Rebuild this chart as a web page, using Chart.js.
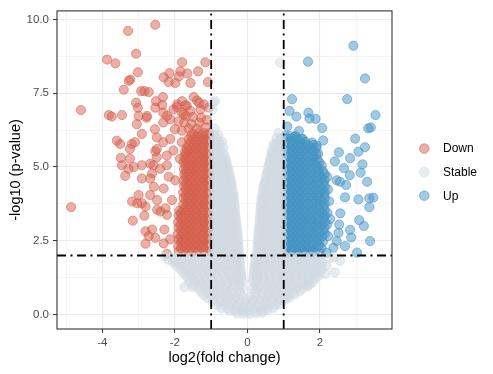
<!DOCTYPE html>
<html>
<head>
<meta charset="utf-8">
<script src="https://cdn.jsdelivr.net/npm/chart.js@4.4.1/dist/chart.umd.min.js"></script>
<style>
  html, body { margin: 0; padding: 0; background: #fff; }
</style>
</head>
<body>
<canvas id="volcanoChart" width="493" height="374"></canvas>
<script>
// cut-offs used in the plot
const fcCut = 1;
const pCut = 2;

const legendLabels = ["Down", "Stable", "Up"];

// Down: scattered points
const downSparse = [
  [-2.54, 9.82], [-3.29, 9.61], [-3.87, 8.64], [-3.64, 8.51], [-3.07, 8.84], [-1.80, 8.55],
  [-1.16, 8.55], [-3.02, 8.21], [-1.36, 8.24], [-2.15, 8.18], [-1.85, 8.24], [-1.66, 8.17],
  [-2.31, 8.04], [-1.99, 7.85], [-2.17, 7.88], [-1.89, 8.07], [-1.57, 7.85], [-1.09, 7.88],
  [-3.27, 7.92], [-3.23, 7.96], [-3.41, 7.62], [-2.93, 7.57], [-2.84, 7.57], [-2.72, 7.54],
  [-4.59, 6.93], [-3.07, 7.18], [-3.02, 7.01], [-2.52, 7.23], [-2.33, 7.37], [-2.54, 7.01],
  [-2.35, 7.10], [-1.94, 7.12], [-1.80, 7.23], [-1.71, 7.10], [-1.48, 7.37], [-1.39, 7.25],
  [-1.20, 7.12], [-1.94, 7.03], [-1.57, 6.90], [-1.30, 6.95], [-1.07, 7.01], [-3.82, 6.76],
  [-3.74, 6.71], [-3.46, 6.76], [-3.00, 6.73], [-2.77, 6.73], [-2.22, 6.73], [-1.76, 6.78],
  [-3.05, 6.45], [-2.78, 6.67], [-2.91, 6.12], [-3.60, 5.89], [-3.51, 5.78], [-3.24, 5.61],
  [-3.19, 5.78], [-3.10, 5.84], [-3.49, 5.31], [-3.24, 5.28], [-3.46, 5.06], [-3.28, 4.94],
  [-3.37, 4.70], [-2.91, 5.06], [-2.50, 6.00], [-2.50, 5.61], [-2.50, 5.33], [-2.68, 5.11],
  [-2.59, 5.06], [-2.91, 4.61], [-2.68, 4.61], [-2.41, 4.94], [-2.22, 5.06], [-2.55, 6.28],
  [-2.32, 6.51], [-2.13, 6.62], [-2.32, 6.84], [-2.04, 6.95], [-1.81, 6.84], [-2.00, 6.28],
  [-2.13, 5.95], [-1.81, 6.23], [-2.32, 5.84], [-1.81, 5.84], [-2.04, 5.56], [-2.22, 5.39],
  [-1.86, 5.28], [-3.13, 5.00], [-2.63, 4.78], [-2.17, 4.67], [-1.99, 4.55], [-2.54, 5.53],
  [-2.58, 4.33], [-2.31, 4.27], [-3.00, 4.05], [-3.04, 3.77], [-2.91, 3.77], [-3.18, 3.83],
  [-2.68, 4.05], [-2.81, 3.66], [-2.49, 3.88], [-2.49, 3.55], [-2.26, 3.60], [-2.22, 3.38],
  [-2.40, 3.49], [-2.08, 3.88], [-4.86, 3.64], [-3.16, 3.18], [-2.84, 3.35], [-2.81, 2.82],
  [-2.63, 2.88], [-2.72, 2.66], [-2.54, 2.60], [-2.29, 2.88], [-2.81, 2.40], [-2.31, 2.41],
  [-2.22, 2.06], [-2.13, 2.55], [-1.67, 7.07], [-1.33, 7.17], [-1.69, 6.73], [-1.50, 6.70],
  [-1.28, 6.67], [-1.55, 6.45], [-1.33, 6.50], [-1.74, 6.51], [-1.15, 6.35], [-1.40, 6.30],
  [-1.12, 6.60], [-1.90, 6.55], [-1.62, 6.30]
];

// Down: the packed block between log2FC -2 and -1
const downCore = [
  [-1.05, 6.15], [-1.20, 6.15], [-1.35, 6.15], [-1.52, 6.13],
  [-1.04, 5.95], [-1.18, 5.95], [-1.33, 5.96], [-1.48, 5.94], [-1.62, 5.95],
  [-1.05, 5.75], [-1.19, 5.75], [-1.34, 5.74], [-1.49, 5.76], [-1.63, 5.75],
  [-1.04, 5.55], [-1.19, 5.55], [-1.33, 5.56], [-1.48, 5.54], [-1.63, 5.55], [-1.72, 5.52],
  [-1.05, 5.35], [-1.19, 5.35], [-1.34, 5.34], [-1.49, 5.36], [-1.64, 5.35], [-1.74, 5.33],
  [-1.04, 5.15], [-1.18, 5.15], [-1.33, 5.16], [-1.48, 5.14], [-1.62, 5.15], [-1.76, 5.15],
  [-1.05, 4.95], [-1.19, 4.95], [-1.34, 4.94], [-1.49, 4.96], [-1.63, 4.95], [-1.75, 4.93],
  [-1.04, 4.75], [-1.19, 4.75], [-1.33, 4.76], [-1.48, 4.74], [-1.62, 4.75], [-1.74, 4.75],
  [-1.05, 4.55], [-1.19, 4.55], [-1.34, 4.54], [-1.48, 4.56], [-1.63, 4.55], [-1.76, 4.53],
  [-1.04, 4.35], [-1.18, 4.35], [-1.33, 4.36], [-1.48, 4.34], [-1.62, 4.35], [-1.75, 4.35],
  [-1.05, 4.15], [-1.19, 4.15], [-1.34, 4.14], [-1.49, 4.16], [-1.63, 4.15], [-1.77, 4.13],
  [-1.04, 3.95], [-1.19, 3.95], [-1.33, 3.96], [-1.48, 3.94], [-1.62, 3.95], [-1.76, 3.95],
  [-1.05, 3.75], [-1.19, 3.75], [-1.34, 3.74], [-1.49, 3.76], [-1.63, 3.75], [-1.77, 3.73],
  [-1.04, 3.55], [-1.18, 3.55], [-1.33, 3.56], [-1.48, 3.54], [-1.62, 3.55], [-1.77, 3.55], [-1.88, 3.52],
  [-1.05, 3.35], [-1.19, 3.35], [-1.34, 3.34], [-1.49, 3.36], [-1.63, 3.35], [-1.78, 3.33], [-1.90, 3.35],
  [-1.04, 3.15], [-1.19, 3.15], [-1.33, 3.16], [-1.48, 3.14], [-1.62, 3.15], [-1.77, 3.15], [-1.91, 3.13],
  [-1.05, 2.95], [-1.19, 2.95], [-1.34, 2.94], [-1.49, 2.96], [-1.63, 2.95], [-1.78, 2.93], [-1.90, 2.95],
  [-1.04, 2.75], [-1.18, 2.75], [-1.33, 2.76], [-1.48, 2.74], [-1.62, 2.75], [-1.77, 2.75], [-1.92, 2.73],
  [-1.05, 2.55], [-1.19, 2.55], [-1.34, 2.54], [-1.49, 2.56], [-1.63, 2.55], [-1.78, 2.53], [-1.90, 2.55],
  [-1.04, 2.35], [-1.19, 2.35], [-1.33, 2.36], [-1.48, 2.34], [-1.62, 2.35], [-1.77, 2.35], [-1.91, 2.33],
  [-1.05, 2.15], [-1.19, 2.15], [-1.34, 2.14], [-1.49, 2.16], [-1.63, 2.15], [-1.78, 2.13], [-1.89, 2.15]
];

// Down: more points packed in between the ones above
const downCoreFill = [
  [-1.11, 6.05], [-1.26, 6.06], [-1.41, 6.04], [-1.56, 6.05],
  [-1.11, 5.85], [-1.26, 5.86], [-1.41, 5.84], [-1.56, 5.85],
  [-1.11, 5.65], [-1.26, 5.66], [-1.41, 5.64], [-1.56, 5.65], [-1.68, 5.64],
  [-1.11, 5.45], [-1.26, 5.46], [-1.41, 5.44], [-1.56, 5.45], [-1.70, 5.44],
  [-1.11, 5.25], [-1.26, 5.26], [-1.41, 5.24], [-1.56, 5.25], [-1.70, 5.24],
  [-1.11, 5.05], [-1.26, 5.06], [-1.41, 5.04], [-1.56, 5.05], [-1.70, 5.05],
  [-1.11, 4.85], [-1.26, 4.86], [-1.41, 4.84], [-1.56, 4.85], [-1.70, 4.84],
  [-1.11, 4.65], [-1.26, 4.66], [-1.41, 4.64], [-1.56, 4.65], [-1.70, 4.65],
  [-1.11, 4.45], [-1.26, 4.46], [-1.41, 4.44], [-1.56, 4.45], [-1.70, 4.44],
  [-1.11, 4.25], [-1.26, 4.26], [-1.41, 4.24], [-1.56, 4.25], [-1.70, 4.25],
  [-1.11, 4.05], [-1.26, 4.06], [-1.41, 4.04], [-1.56, 4.05], [-1.70, 4.04],
  [-1.11, 3.85], [-1.26, 3.86], [-1.41, 3.84], [-1.56, 3.85], [-1.70, 3.85],
  [-1.11, 3.65], [-1.26, 3.66], [-1.41, 3.64], [-1.56, 3.65], [-1.70, 3.64],
  [-1.11, 3.45], [-1.26, 3.46], [-1.41, 3.44], [-1.56, 3.45], [-1.70, 3.45], [-1.84, 3.44],
  [-1.11, 3.25], [-1.26, 3.26], [-1.41, 3.24], [-1.56, 3.25], [-1.70, 3.24], [-1.84, 3.25],
  [-1.11, 3.05], [-1.26, 3.06], [-1.41, 3.04], [-1.56, 3.05], [-1.70, 3.05], [-1.84, 3.04],
  [-1.11, 2.85], [-1.26, 2.86], [-1.41, 2.84], [-1.56, 2.85], [-1.70, 2.84], [-1.84, 2.85],
  [-1.11, 2.65], [-1.26, 2.66], [-1.41, 2.64], [-1.56, 2.65], [-1.70, 2.65], [-1.84, 2.64],
  [-1.11, 2.45], [-1.26, 2.46], [-1.41, 2.44], [-1.56, 2.45], [-1.70, 2.44], [-1.84, 2.45],
  [-1.11, 2.25], [-1.26, 2.26], [-1.41, 2.24], [-1.56, 2.25], [-1.70, 2.25], [-1.84, 2.24]
];

// Up: scattered points
const upSparse = [
  [2.92, 9.11], [1.67, 8.57], [3.24, 8.00], [1.23, 7.30], [2.75, 7.30], [1.16, 6.90],
  [1.35, 6.71], [1.68, 6.84], [1.71, 6.64], [1.88, 6.63], [3.53, 6.76], [1.10, 6.37],
  [1.42, 6.22], [2.06, 6.32], [3.33, 6.31], [3.40, 6.34], [2.97, 5.96], [2.09, 5.90],
  [3.24, 5.67], [3.06, 5.52], [2.52, 5.50], [2.83, 5.30], [2.41, 5.19], [2.66, 4.96],
  [3.17, 5.09], [3.12, 4.81], [2.82, 4.72], [3.30, 4.50], [2.55, 4.50], [2.72, 4.39],
  [2.46, 4.55], [3.06, 3.90], [3.36, 3.94], [3.47, 3.96], [2.69, 3.97], [3.36, 3.64],
  [3.08, 3.20], [3.21, 3.00], [2.83, 2.87], [2.86, 2.61], [3.38, 2.49], [3.02, 2.10],
  [2.56, 3.43], [2.53, 3.05], [2.51, 2.77], [2.46, 2.49], [2.69, 2.32], [2.37, 2.26],
  [2.18, 2.10], [1.50, 5.95], [1.91, 5.72], [1.95, 5.45], [1.32, 6.05]
];

// Up: the packed block right of log2FC 1
const upCore = [
  [1.04, 6.05], [1.17, 6.05], [1.30, 6.03],
  [1.03, 5.85], [1.17, 5.85], [1.31, 5.86], [1.45, 5.84], [1.60, 5.85], [1.78, 5.83],
  [1.04, 5.65], [1.18, 5.65], [1.32, 5.64], [1.46, 5.66], [1.60, 5.65], [1.75, 5.63], [1.90, 5.65],
  [1.03, 5.45], [1.17, 5.45], [1.31, 5.46], [1.45, 5.44], [1.59, 5.45], [1.74, 5.45], [1.90, 5.43],
  [1.04, 5.25], [1.18, 5.25], [1.32, 5.24], [1.46, 5.26], [1.60, 5.25], [1.76, 5.23], [1.93, 5.25],
  [1.03, 5.05], [1.17, 5.05], [1.31, 5.06], [1.45, 5.04], [1.59, 5.05], [1.74, 5.05], [1.90, 5.03], [2.05, 5.05],
  [1.04, 4.85], [1.18, 4.85], [1.32, 4.84], [1.46, 4.86], [1.60, 4.85], [1.75, 4.83], [1.92, 4.85], [2.08, 4.86],
  [1.03, 4.65], [1.17, 4.65], [1.31, 4.66], [1.45, 4.64], [1.59, 4.65], [1.74, 4.65], [1.90, 4.63], [2.06, 4.65], [2.20, 4.66],
  [1.04, 4.45], [1.18, 4.45], [1.32, 4.44], [1.46, 4.46], [1.60, 4.45], [1.76, 4.43], [1.92, 4.45], [2.10, 4.44],
  [1.03, 4.25], [1.17, 4.25], [1.31, 4.26], [1.45, 4.24], [1.59, 4.25], [1.74, 4.25], [1.90, 4.23], [2.05, 4.25], [2.22, 4.24],
  [1.04, 4.05], [1.18, 4.05], [1.32, 4.04], [1.46, 4.06], [1.60, 4.05], [1.76, 4.03], [1.93, 4.05], [2.12, 4.06],
  [1.03, 3.85], [1.17, 3.85], [1.31, 3.86], [1.45, 3.84], [1.59, 3.85], [1.74, 3.85], [1.90, 3.83], [2.05, 3.85], [2.25, 3.84],
  [1.04, 3.65], [1.18, 3.65], [1.32, 3.64], [1.46, 3.66], [1.60, 3.65], [1.76, 3.63], [1.92, 3.65], [2.10, 3.66],
  [1.03, 3.45], [1.17, 3.45], [1.31, 3.46], [1.45, 3.44], [1.59, 3.45], [1.74, 3.45], [1.90, 3.43], [2.06, 3.45], [2.20, 3.44],
  [1.04, 3.25], [1.18, 3.25], [1.32, 3.24], [1.46, 3.26], [1.60, 3.25], [1.75, 3.23], [1.92, 3.25], [2.10, 3.26], [2.28, 3.24],
  [1.03, 3.05], [1.17, 3.05], [1.31, 3.06], [1.45, 3.04], [1.59, 3.05], [1.74, 3.05], [1.90, 3.03], [2.05, 3.05], [2.20, 3.06],
  [1.04, 2.85], [1.18, 2.85], [1.32, 2.84], [1.46, 2.86], [1.60, 2.85], [1.76, 2.83], [1.92, 2.85], [2.10, 2.86],
  [1.03, 2.65], [1.17, 2.65], [1.31, 2.66], [1.45, 2.64], [1.59, 2.65], [1.74, 2.65], [1.90, 2.63], [2.06, 2.65], [2.22, 2.66],
  [1.04, 2.45], [1.18, 2.45], [1.32, 2.44], [1.46, 2.46], [1.60, 2.45], [1.75, 2.43], [1.92, 2.45], [2.08, 2.46],
  [1.03, 2.25], [1.17, 2.25], [1.31, 2.26], [1.45, 2.24], [1.59, 2.25], [1.74, 2.25], [1.90, 2.23], [2.04, 2.25],
  [1.10, 2.10], [1.25, 2.10], [1.40, 2.11], [1.55, 2.09], [1.70, 2.10], [1.85, 2.11], [1.98, 2.09]
];

// Up: more points packed in between the ones above
const upCoreFill = [
  [1.10, 5.95], [1.24, 5.96], [1.38, 5.94], [1.52, 5.95],
  [1.10, 5.75], [1.24, 5.76], [1.38, 5.74], [1.52, 5.75], [1.67, 5.74], [1.82, 5.75],
  [1.10, 5.55], [1.24, 5.56], [1.38, 5.54], [1.52, 5.55], [1.67, 5.55], [1.82, 5.54],
  [1.10, 5.35], [1.24, 5.36], [1.38, 5.34], [1.52, 5.35], [1.67, 5.34], [1.82, 5.35],
  [1.10, 5.15], [1.24, 5.16], [1.38, 5.14], [1.52, 5.15], [1.67, 5.15], [1.82, 5.14], [1.98, 5.15],
  [1.10, 4.95], [1.24, 4.96], [1.38, 4.94], [1.52, 4.95], [1.67, 4.94], [1.82, 4.95], [1.98, 4.94],
  [1.10, 4.75], [1.24, 4.76], [1.38, 4.74], [1.52, 4.75], [1.67, 4.75], [1.82, 4.74], [1.98, 4.75], [2.13, 4.76],
  [1.10, 4.55], [1.24, 4.56], [1.38, 4.54], [1.52, 4.55], [1.67, 4.54], [1.82, 4.55], [1.98, 4.54], [2.13, 4.55],
  [1.10, 4.35], [1.24, 4.36], [1.38, 4.34], [1.52, 4.35], [1.67, 4.35], [1.82, 4.34], [1.98, 4.35], [2.13, 4.34],
  [1.10, 4.15], [1.24, 4.16], [1.38, 4.14], [1.52, 4.15], [1.67, 4.14], [1.82, 4.15], [1.98, 4.14], [2.13, 4.15],
  [1.10, 3.95], [1.24, 3.96], [1.38, 3.94], [1.52, 3.95], [1.67, 3.95], [1.82, 3.94], [1.98, 3.95], [2.13, 3.94],
  [1.10, 3.75], [1.24, 3.76], [1.38, 3.74], [1.52, 3.75], [1.67, 3.74], [1.82, 3.75], [1.98, 3.74], [2.13, 3.75],
  [1.10, 3.55], [1.24, 3.56], [1.38, 3.54], [1.52, 3.55], [1.67, 3.55], [1.82, 3.54], [1.98, 3.55], [2.13, 3.54],
  [1.10, 3.35], [1.24, 3.36], [1.38, 3.34], [1.52, 3.35], [1.67, 3.34], [1.82, 3.35], [1.98, 3.34], [2.13, 3.35],
  [1.10, 3.15], [1.24, 3.16], [1.38, 3.14], [1.52, 3.15], [1.67, 3.15], [1.82, 3.14], [1.98, 3.15], [2.13, 3.14],
  [1.10, 2.95], [1.24, 2.96], [1.38, 2.94], [1.52, 2.95], [1.67, 2.94], [1.82, 2.95], [1.98, 2.94], [2.13, 2.95],
  [1.10, 2.75], [1.24, 2.76], [1.38, 2.74], [1.52, 2.75], [1.67, 2.75], [1.82, 2.74], [1.98, 2.75], [2.13, 2.74],
  [1.10, 2.55], [1.24, 2.56], [1.38, 2.54], [1.52, 2.55], [1.67, 2.54], [1.82, 2.55], [1.98, 2.54],
  [1.10, 2.35], [1.24, 2.36], [1.38, 2.34], [1.52, 2.35], [1.67, 2.35], [1.82, 2.34], [1.98, 2.35],
  [1.10, 2.17], [1.24, 2.18], [1.38, 2.16], [1.52, 2.17], [1.67, 2.17], [1.82, 2.16]
];

// Stable: the few loose points near the top
const stableSparse = [
  [0.90, 8.54], [-0.89, 7.23], [-0.95, 7.18], [-0.97, 6.95], [-0.90, 6.30], [0.86, 6.15]
];

// Stable: left arm of the V (between -1 and 0, above p cut-off)
const stableLeftArm = [
  [-0.94, 6.10], [-0.80, 6.08],
  [-0.95, 5.88], [-0.80, 5.88], [-0.70, 5.86],
  [-0.95, 5.66], [-0.80, 5.66], [-0.66, 5.65],
  [-0.95, 5.44], [-0.80, 5.44], [-0.65, 5.43],
  [-0.95, 5.22], [-0.80, 5.22], [-0.65, 5.22], [-0.58, 5.20],
  [-0.95, 5.00], [-0.80, 5.00], [-0.65, 5.00], [-0.54, 4.98],
  [-0.95, 4.78], [-0.80, 4.78], [-0.65, 4.78], [-0.50, 4.77],
  [-0.95, 4.56], [-0.80, 4.56], [-0.65, 4.56], [-0.50, 4.56], [-0.46, 4.54],
  [-0.95, 4.34], [-0.80, 4.34], [-0.65, 4.34], [-0.50, 4.34], [-0.42, 4.33],
  [-0.95, 4.12], [-0.80, 4.12], [-0.65, 4.12], [-0.50, 4.12], [-0.39, 4.11],
  [-0.95, 3.90], [-0.80, 3.90], [-0.65, 3.90], [-0.50, 3.90], [-0.37, 3.89],
  [-0.95, 3.68], [-0.80, 3.68], [-0.65, 3.68], [-0.50, 3.68], [-0.35, 3.67],
  [-0.95, 3.46], [-0.80, 3.46], [-0.65, 3.46], [-0.50, 3.46], [-0.34, 3.45],
  [-0.95, 3.24], [-0.80, 3.24], [-0.65, 3.24], [-0.50, 3.24], [-0.32, 3.23],
  [-0.95, 3.02], [-0.80, 3.02], [-0.65, 3.02], [-0.50, 3.02], [-0.36, 3.02], [-0.30, 3.01],
  [-0.95, 2.80], [-0.80, 2.80], [-0.65, 2.80], [-0.50, 2.80], [-0.36, 2.80], [-0.28, 2.79],
  [-0.95, 2.58], [-0.80, 2.58], [-0.65, 2.58], [-0.50, 2.58], [-0.36, 2.58], [-0.26, 2.57],
  [-0.95, 2.36], [-0.80, 2.36], [-0.65, 2.36], [-0.50, 2.36], [-0.36, 2.36], [-0.25, 2.35],
  [-0.95, 2.14], [-0.80, 2.14], [-0.65, 2.14], [-0.50, 2.14], [-0.36, 2.14], [-0.24, 2.13],
  // second layer
  [-0.88, 6.00], [-0.88, 5.77], [-0.74, 5.77], [-0.88, 5.55], [-0.72, 5.55],
  [-0.88, 5.33], [-0.72, 5.33], [-0.61, 5.32], [-0.88, 5.11], [-0.72, 5.11], [-0.57, 5.10],
  [-0.88, 4.89], [-0.72, 4.89], [-0.57, 4.89], [-0.52, 4.88],
  [-0.88, 4.67], [-0.72, 4.67], [-0.57, 4.67], [-0.48, 4.66],
  [-0.88, 4.45], [-0.72, 4.45], [-0.57, 4.45], [-0.44, 4.44],
  [-0.88, 4.23], [-0.72, 4.23], [-0.57, 4.23], [-0.43, 4.22],
  [-0.88, 4.01], [-0.72, 4.01], [-0.57, 4.01], [-0.43, 4.01], [-0.38, 4.00],
  [-0.88, 3.79], [-0.72, 3.79], [-0.57, 3.79], [-0.43, 3.79], [-0.36, 3.78],
  [-0.88, 3.57], [-0.72, 3.57], [-0.57, 3.57], [-0.43, 3.57], [-0.35, 3.56],
  [-0.88, 3.35], [-0.72, 3.35], [-0.57, 3.35], [-0.43, 3.35], [-0.33, 3.34],
  [-0.88, 3.13], [-0.72, 3.13], [-0.57, 3.13], [-0.43, 3.13], [-0.31, 3.12],
  [-0.88, 2.91], [-0.72, 2.91], [-0.57, 2.91], [-0.43, 2.91], [-0.29, 2.90],
  [-0.88, 2.69], [-0.72, 2.69], [-0.57, 2.69], [-0.43, 2.69], [-0.27, 2.68],
  [-0.88, 2.47], [-0.72, 2.47], [-0.57, 2.47], [-0.43, 2.47], [-0.30, 2.47], [-0.25, 2.46],
  [-0.88, 2.25], [-0.72, 2.25], [-0.57, 2.25], [-0.43, 2.25], [-0.30, 2.25], [-0.24, 2.24],
  [-0.88, 2.05], [-0.72, 2.05], [-0.57, 2.05], [-0.43, 2.05], [-0.30, 2.05], [-0.24, 2.04]
];

// Stable: right arm of the V
const stableRightArm = [
  [0.92, 6.00], [0.80, 5.98],
  [0.95, 5.80], [0.80, 5.80], [0.72, 5.78],
  [0.95, 5.58], [0.80, 5.58], [0.68, 5.57],
  [0.95, 5.36], [0.80, 5.36], [0.65, 5.35],
  [0.95, 5.14], [0.80, 5.14], [0.65, 5.14], [0.60, 5.12],
  [0.95, 4.92], [0.80, 4.92], [0.65, 4.92], [0.56, 4.91],
  [0.95, 4.70], [0.80, 4.70], [0.65, 4.70], [0.52, 4.69],
  [0.95, 4.48], [0.80, 4.48], [0.65, 4.48], [0.50, 4.48], [0.47, 4.46],
  [0.95, 4.26], [0.80, 4.26], [0.65, 4.26], [0.50, 4.26], [0.43, 4.25],
  [0.95, 4.04], [0.80, 4.04], [0.65, 4.04], [0.50, 4.04], [0.40, 4.03],
  [0.95, 3.82], [0.80, 3.82], [0.65, 3.82], [0.50, 3.82], [0.38, 3.81],
  [0.95, 3.60], [0.80, 3.60], [0.65, 3.60], [0.50, 3.60], [0.36, 3.59],
  [0.95, 3.38], [0.80, 3.38], [0.65, 3.38], [0.50, 3.38], [0.35, 3.37],
  [0.95, 3.16], [0.80, 3.16], [0.65, 3.16], [0.50, 3.16], [0.34, 3.15],
  [0.95, 2.94], [0.80, 2.94], [0.65, 2.94], [0.50, 2.94], [0.36, 2.94], [0.32, 2.93],
  [0.95, 2.72], [0.80, 2.72], [0.65, 2.72], [0.50, 2.72], [0.36, 2.72], [0.30, 2.71],
  [0.95, 2.50], [0.80, 2.50], [0.65, 2.50], [0.50, 2.50], [0.36, 2.50], [0.29, 2.49],
  [0.95, 2.28], [0.80, 2.28], [0.65, 2.28], [0.50, 2.28], [0.36, 2.28], [0.28, 2.27],
  [0.95, 2.08], [0.80, 2.08], [0.65, 2.08], [0.50, 2.08], [0.36, 2.08], [0.27, 2.07],
  // second layer
  [0.88, 5.90], [0.88, 5.69], [0.73, 5.69], [0.88, 5.47], [0.72, 5.47], [0.66, 5.46],
  [0.88, 5.25], [0.72, 5.25], [0.62, 5.24], [0.88, 5.03], [0.72, 5.03], [0.58, 5.02],
  [0.88, 4.81], [0.72, 4.81], [0.57, 4.81], [0.54, 4.80],
  [0.88, 4.59], [0.72, 4.59], [0.57, 4.59], [0.50, 4.58],
  [0.88, 4.37], [0.72, 4.37], [0.57, 4.37], [0.45, 4.36],
  [0.88, 4.15], [0.72, 4.15], [0.57, 4.15], [0.43, 4.14],
  [0.88, 3.93], [0.72, 3.93], [0.57, 3.93], [0.43, 3.93], [0.39, 3.92],
  [0.88, 3.71], [0.72, 3.71], [0.57, 3.71], [0.43, 3.71], [0.37, 3.70],
  [0.88, 3.49], [0.72, 3.49], [0.57, 3.49], [0.43, 3.49], [0.36, 3.48],
  [0.88, 3.27], [0.72, 3.27], [0.57, 3.27], [0.43, 3.27], [0.34, 3.26],
  [0.88, 3.05], [0.72, 3.05], [0.57, 3.05], [0.43, 3.05], [0.33, 3.04],
  [0.88, 2.83], [0.72, 2.83], [0.57, 2.83], [0.43, 2.83], [0.31, 2.82],
  [0.88, 2.61], [0.72, 2.61], [0.57, 2.61], [0.43, 2.61], [0.30, 2.60],
  [0.88, 2.39], [0.72, 2.39], [0.57, 2.39], [0.43, 2.39], [0.32, 2.39], [0.29, 2.38],
  [0.88, 2.18], [0.72, 2.18], [0.57, 2.18], [0.43, 2.18], [0.32, 2.18], [0.28, 2.17]
];

// Stable: the wide base below the p cut-off
const stableBase = [
  [-0.30, 0.04], [-0.12, 0.03], [0.06, 0.03], [0.24, 0.04], [0.40, 0.06],
  [-0.72, 0.22], [-0.54, 0.20], [-0.36, 0.18], [-0.18, 0.17], [0.00, 0.16], [0.18, 0.17], [0.36, 0.19], [0.54, 0.21], [0.72, 0.23],
  [-0.95, 0.44], [-0.77, 0.42], [-0.59, 0.40], [-0.41, 0.39], [-0.23, 0.38], [-0.05, 0.38], [0.13, 0.39], [0.31, 0.40],
  [0.49, 0.42], [0.67, 0.43], [0.85, 0.44], [1.00, 0.46],
  [-1.20, 0.66], [-1.02, 0.65], [-0.84, 0.63], [-0.66, 0.62], [-0.48, 0.61], [-0.30, 0.60], [-0.12, 0.60], [0.06, 0.60],
  [0.24, 0.61], [0.42, 0.62], [0.60, 0.63], [0.78, 0.64], [0.96, 0.65], [1.14, 0.67], [1.30, 0.68],
  [-1.35, 0.88], [-1.17, 0.87], [-0.99, 0.86], [-0.81, 0.85], [-0.63, 0.84], [-0.45, 0.84], [-0.27, 0.85], [-0.14, 0.88],
  [0.14, 0.88], [0.27, 0.85], [0.45, 0.84], [0.63, 0.85], [0.81, 0.86], [0.99, 0.87], [1.17, 0.88], [1.35, 0.89],
  [1.52, 0.90], [-1.74, 0.93], [-1.52, 0.93], [1.64, 0.95],
  [-1.60, 1.10], [-1.44, 1.09], [-1.26, 1.08], [-1.08, 1.07], [-0.90, 1.06], [-0.72, 1.06], [-0.54, 1.07], [-0.38, 1.08],
  [-0.24, 1.09], [-0.15, 1.11], [0.15, 1.11], [0.27, 1.09], [0.44, 1.08], [0.62, 1.07], [0.80, 1.07], [0.98, 1.08],
  [1.16, 1.09], [1.34, 1.10], [1.52, 1.11], [1.68, 1.12], [1.80, 1.10],
  [-1.70, 1.32], [-1.54, 1.31], [-1.36, 1.30], [-1.18, 1.29], [-1.00, 1.29], [-0.82, 1.28], [-0.64, 1.29], [-0.46, 1.30],
  [-0.30, 1.31], [-0.17, 1.33], [0.17, 1.33], [0.29, 1.31], [0.44, 1.30], [0.62, 1.29], [0.80, 1.29], [0.98, 1.30],
  [1.16, 1.31], [1.34, 1.31], [1.52, 1.32], [1.70, 1.33], [1.86, 1.33], [1.96, 1.31], [2.14, 1.38], [2.41, 1.43],
  [-1.85, 1.54], [-1.68, 1.53], [-1.50, 1.52], [-1.32, 1.52], [-1.14, 1.51], [-0.96, 1.51], [-0.78, 1.52], [-0.60, 1.52],
  [-0.42, 1.53], [-0.27, 1.54], [-0.19, 1.55], [0.19, 1.55], [0.33, 1.54], [0.50, 1.53], [0.68, 1.52], [0.86, 1.52],
  [1.04, 1.52], [1.22, 1.53], [1.40, 1.53], [1.58, 1.54], [1.76, 1.54], [1.92, 1.55], [2.05, 1.55], [2.18, 1.65],
  [-2.05, 1.76], [-1.87, 1.75], [-1.70, 1.74], [-1.52, 1.74], [-1.34, 1.73], [-1.16, 1.73], [-0.98, 1.74], [-0.80, 1.74],
  [-0.62, 1.75], [-0.44, 1.75], [-0.28, 1.76], [-0.21, 1.77], [0.21, 1.77], [0.30, 1.76], [0.46, 1.75], [0.64, 1.75],
  [0.82, 1.74], [1.00, 1.74], [1.18, 1.75], [1.36, 1.75], [1.54, 1.76], [1.72, 1.76], [1.90, 1.77], [2.06, 1.77],
  [2.55, 1.82],
  [-2.28, 1.96], [-2.10, 1.95], [-1.92, 1.95], [-1.74, 1.94], [-1.56, 1.94], [-1.38, 1.95], [-1.20, 1.95], [-1.02, 1.96],
  [-0.84, 1.96], [-0.66, 1.95], [-0.48, 1.95], [-0.32, 1.96], [-0.23, 1.97], [0.23, 1.97], [0.34, 1.96], [0.50, 1.95],
  [0.68, 1.95], [0.86, 1.96], [1.04, 1.96], [1.22, 1.95], [1.40, 1.95], [1.58, 1.96], [1.76, 1.96], [1.94, 1.97],
  [2.25, 1.90], [2.40, 1.95],
  // second layer
  [-0.50, 0.13], [-0.32, 0.12], [-0.14, 0.11], [0.04, 0.11], [0.22, 0.12], [0.40, 0.13], [0.56, 0.15],
  [-0.84, 0.33], [-0.66, 0.31], [-0.48, 0.30], [-0.30, 0.29], [-0.12, 0.28], [0.06, 0.28], [0.24, 0.29], [0.42, 0.30],
  [0.60, 0.31], [0.78, 0.33], [0.88, 0.35],
  [-1.10, 0.55], [-0.93, 0.54], [-0.75, 0.52], [-0.57, 0.51], [-0.39, 0.50], [-0.21, 0.50], [-0.03, 0.50], [0.15, 0.50],
  [0.33, 0.51], [0.51, 0.52], [0.69, 0.53], [0.87, 0.54], [1.05, 0.55], [1.15, 0.57],
  [-1.28, 0.77], [-1.11, 0.76], [-0.93, 0.75], [-0.75, 0.74], [-0.57, 0.73], [-0.39, 0.73], [-0.21, 0.75], [0.21, 0.75],
  [0.39, 0.73], [0.57, 0.74], [0.75, 0.75], [0.93, 0.76], [1.11, 0.77], [1.29, 0.78], [1.45, 0.79],
  [-1.48, 0.99], [-1.30, 0.98], [-1.12, 0.97], [-0.94, 0.96], [-0.76, 0.96], [-0.58, 0.96], [-0.40, 0.97], [-0.22, 0.98],
  [0.22, 0.98], [0.36, 0.97], [0.54, 0.96], [0.72, 0.96], [0.90, 0.97], [1.08, 0.98], [1.26, 0.99], [1.44, 1.00],
  [1.62, 1.01], [1.70, 1.00],
  [-1.62, 1.21], [-1.50, 1.20], [-1.32, 1.19], [-1.14, 1.18], [-0.96, 1.18], [-0.78, 1.18], [-0.60, 1.19], [-0.42, 1.20],
  [-0.26, 1.21], [-0.16, 1.22], [0.16, 1.22], [0.26, 1.21], [0.44, 1.20], [0.62, 1.19], [0.80, 1.19], [0.98, 1.20],
  [1.16, 1.20], [1.34, 1.21], [1.52, 1.21], [1.70, 1.22], [1.86, 1.22],
  [-1.78, 1.43], [-1.60, 1.42], [-1.42, 1.41], [-1.24, 1.41], [-1.06, 1.40], [-0.88, 1.40], [-0.70, 1.41], [-0.52, 1.42],
  [-0.34, 1.43], [-0.18, 1.44], [0.18, 1.44], [0.27, 1.43], [0.42, 1.42], [0.60, 1.41], [0.78, 1.41], [0.96, 1.41],
  [1.14, 1.42], [1.32, 1.42], [1.50, 1.43], [1.68, 1.43], [1.86, 1.44], [2.00, 1.44],
  [-1.96, 1.65], [-1.78, 1.64], [-1.60, 1.63], [-1.42, 1.63], [-1.24, 1.62], [-1.06, 1.62], [-0.88, 1.63], [-0.70, 1.63],
  [-0.52, 1.64], [-0.34, 1.64], [-0.20, 1.66], [0.20, 1.66], [0.28, 1.65], [0.42, 1.64], [0.60, 1.64], [0.78, 1.63],
  [0.96, 1.63], [1.14, 1.64], [1.32, 1.64], [1.50, 1.65], [1.68, 1.65], [1.86, 1.66], [2.02, 1.66],
  [-2.18, 1.86], [-2.00, 1.85], [-1.82, 1.85], [-1.64, 1.84], [-1.46, 1.84], [-1.28, 1.84], [-1.10, 1.85], [-0.92, 1.85],
  [-0.74, 1.85], [-0.56, 1.86], [-0.40, 1.86], [-0.22, 1.87], [0.22, 1.87], [0.32, 1.86], [0.42, 1.86], [0.60, 1.85],
  [0.78, 1.85], [0.96, 1.85], [1.14, 1.86], [1.32, 1.86], [1.50, 1.86], [1.68, 1.87], [1.86, 1.87], [2.00, 1.87]
];

const downColor = [214, 96, 77];
const stableColor = [210, 218, 226];
const upColor = [67, 147, 195];

const rgba = (c, a) => `rgba(${c[0]}, ${c[1]}, ${c[2]}, ${a})`;
const toXY = (arr) => arr.map((p) => ({ x: p[0], y: p[1] }));

const fontFamily = "'Liberation Sans', Arial, sans-serif";

function pointSet(label, points, color, order) {
    return {
        label: label,
        data: toXY(points),
        backgroundColor: rgba(color, 0.5),
        borderColor: rgba(color, 0.55),
        borderWidth: 1,
        pointRadius: 4.6,
        pointHoverRadius: 4.6,
        order: order,
    };
}

// panel border, cut-off lines and the legend on the right
const volcanoExtras = {
    id: "volcanoExtras",
    afterDatasetsDraw(chart) {
        const { ctx, chartArea: area, scales } = chart;
        ctx.save();
        ctx.strokeStyle = "#000";
        ctx.lineWidth = 1.8;
        ctx.setLineDash([9, 4.5, 2, 4.5]);
        ctx.beginPath();
        [-fcCut, fcCut].forEach((v) => {
            const px = scales.x.getPixelForValue(v);
            ctx.moveTo(px, area.bottom);
            ctx.lineTo(px, area.top);
        });
        const py = scales.y.getPixelForValue(pCut);
        ctx.moveTo(area.left, py);
        ctx.lineTo(area.right, py);
        ctx.stroke();
        ctx.setLineDash([]);

        ctx.strokeStyle = "#333333";
        ctx.lineWidth = 1.1;
        ctx.strokeRect(area.left, area.top, area.right - area.left, area.bottom - area.top);
        ctx.restore();
    },
    afterDraw(chart) {
        const { ctx } = chart;
        const colors = [downColor, stableColor, upColor];
        ctx.save();
        ctx.font = `12px ${fontFamily}`;
        ctx.textBaseline = "middle";
        ctx.textAlign = "left";
        legendLabels.forEach((name, i) => {
            const cy = 148.5 + i * 23.6;
            ctx.beginPath();
            ctx.arc(424.3, cy, 4.8, 0, Math.PI * 2);
            ctx.fillStyle = rgba(colors[i], 0.5);
            ctx.fill();
            ctx.lineWidth = 1;
            ctx.strokeStyle = rgba(colors[i], 0.55);
            ctx.stroke();
            ctx.fillStyle = "#000";
            ctx.fillText(name, 443, cy + 0.5);
        });
        ctx.restore();
    },
};

const isMajorX = (v) => Math.abs(v % 2) < 1e-6;
const isMajorY = (v) => Math.abs(v / 2.5 - Math.round(v / 2.5)) < 1e-6;

const ctx = document.getElementById("volcanoChart").getContext("2d");

new Chart(ctx, {
    type: "scatter",
    data: {
        datasets: [
            pointSet("Down", downCore.concat(downCoreFill, downSparse), downColor, 1),
            pointSet("Stable", stableBase.concat(stableLeftArm, stableRightArm, stableSparse), stableColor, 0),
            pointSet("Up", upCore.concat(upCoreFill, upSparse), upColor, 1),
        ],
    },
    options: {
        responsive: false,
        animation: false,
        devicePixelRatio: 1,
        events: [],
        layout: { padding: { top: 7, right: 101, left: 0, bottom: 0 } },
        plugins: {
            legend: { display: false },
            tooltip: { enabled: false },
        },
        scales: {
            x: {
                type: "linear",
                min: -5.25,
                max: 3.985,
                afterFit: (scale) => { scale.height = 45; },
                border: { display: false },
                grid: {
                    color: "#ebebeb",
                    lineWidth: (c) => (isMajorX(c.tick.value) ? 1.1 : 0.55),
                    tickColor: (c) => (isMajorX(c.tick.value) ? "#333333" : "rgba(0,0,0,0)"),
                    tickLength: 4,
                    tickWidth: 1,
                },
                ticks: {
                    stepSize: 1,
                    includeBounds: false,
                    autoSkip: false,
                    maxRotation: 0,
                    padding: 3,
                    color: "#4d4d4d",
                    font: { family: fontFamily, size: 11.5 },
                    callback: (v) => (isMajorX(v) ? String(v) : ""),
                },
                title: {
                    display: true,
                    text: "log2(fold change)",
                    color: "#000",
                    font: { family: fontFamily, size: 14.5 },
                    padding: { top: 0, bottom: 7 },
                },
            },
            y: {
                type: "linear",
                min: -0.49,
                max: 10.29,
                afterFit: (scale) => { scale.width = 57; },
                border: { display: false },
                grid: {
                    color: "#ebebeb",
                    lineWidth: (c) => (isMajorY(c.tick.value) ? 1.1 : 0.55),
                    tickColor: (c) => (isMajorY(c.tick.value) ? "#333333" : "rgba(0,0,0,0)"),
                    tickLength: 4,
                    tickWidth: 1,
                },
                ticks: {
                    stepSize: 1.25,
                    includeBounds: false,
                    autoSkip: false,
                    padding: 4,
                    color: "#4d4d4d",
                    font: { family: fontFamily, size: 11.5 },
                    callback: (v) => (isMajorY(v) ? v.toFixed(1) : ""),
                },
                title: {
                    display: true,
                    text: "-log10 (p-value)",
                    color: "#000",
                    font: { family: fontFamily, size: 14.5 },
                    padding: { top: 7, bottom: 0 },
                },
            },
        },
    },
    plugins: [volcanoExtras],
});
</script>
</body>
</html>
